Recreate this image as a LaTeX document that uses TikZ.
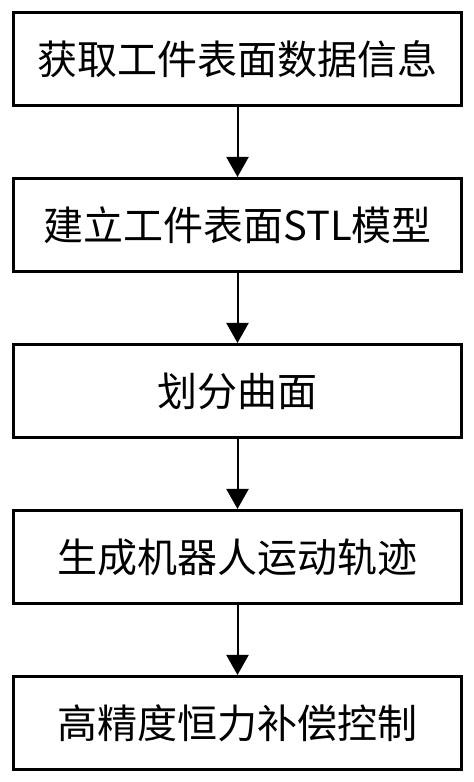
\documentclass[tikz,border=0pt]{standalone}
\usepackage{fontspec}
\usepackage{xcolor}
\usepackage{tikz}
\usetikzlibrary{arrows.meta,positioning}
\newfontfamily\cjk{Noto Sans CJK SC}

\begin{document}
\begin{tikzpicture}[
    x=1pt, y=1pt,
    node distance=70pt,
    proc/.style={rectangle, draw=black, fill=white, line width=3pt, minimum width=448pt, minimum height=93pt, inner sep=0pt, align=center, font=\cjk\fontsize{40}{46}\selectfont},
    arrow/.style={-{Triangle[length=20pt, width=22pt]}, line width=2pt, black}
]
    \useasboundingbox (0,0) rectangle (474,782);

    \node[proc] (p1) at (237.5,723) {获取工件表面数据信息};
    \node[proc, below=of p1] (p2) {建立工件表面STL模型};
    \node[proc, below=of p2] (p3) {划分曲面};
    \node[proc, below=of p3] (p4) {生成机器人运动轨迹};
    \node[proc, below=of p4] (p5) {高精度恒力补偿控制};

    \draw[arrow] (p1) -- (p2);
    \draw[arrow] (p2) -- (p3);
    \draw[arrow] (p3) -- (p4);
    \draw[arrow] (p4) -- (p5);
\end{tikzpicture}
\end{document}
